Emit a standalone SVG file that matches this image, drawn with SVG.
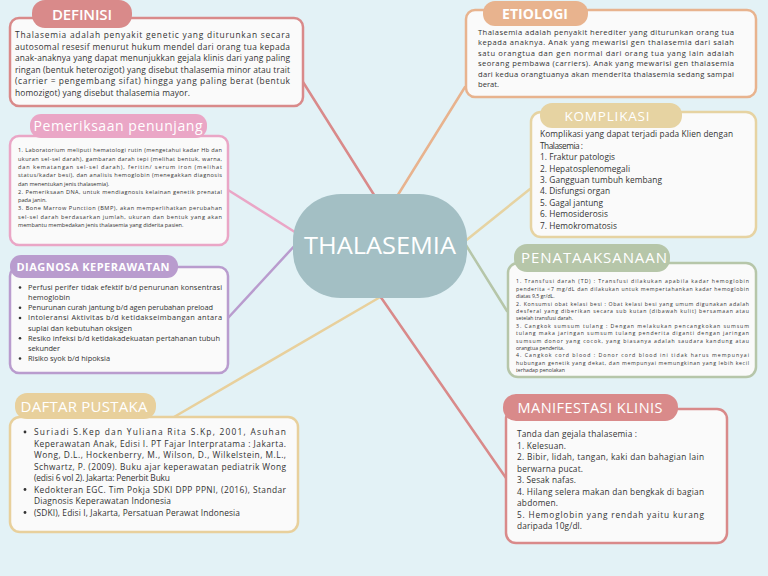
<svg xmlns="http://www.w3.org/2000/svg" width="768" height="576" viewBox="0 0 768 576">
<style>
.box{fill:#fafafa;stroke-width:2.5}
.hd{font-family:"Open Sans","Liberation Sans",sans-serif;fill:#fff;text-anchor:middle;font-weight:600}
.t{font-family:"Open Sans","Liberation Sans",sans-serif;fill:#333}
.con{stroke-width:2.5;stroke-linecap:round;fill:none}
</style>
<rect width="768" height="576" fill="#e3f2f6"/>
<g id="connectors" class="con">
<line x1="303" y1="82" x2="376" y2="198" stroke="#d98a8a"/>
<line x1="465" y1="87" x2="396" y2="198" stroke="#e8b38e"/>
<line x1="228" y1="190" x2="298" y2="234" stroke="#eaa6c6"/>
<line x1="228" y1="318" x2="298" y2="242" stroke="#b99cce"/>
<line x1="174" y1="417" x2="382" y2="296" stroke="#e8d09c"/>
<line x1="530" y1="189" x2="464" y2="242" stroke="#e6d3a2"/>
<line x1="507" y1="311" x2="464" y2="242" stroke="#b6c6a9"/>
<line x1="506" y1="478" x2="380" y2="296" stroke="#d98a8a"/>
</g>
<g id="center">
<rect x="293" y="194" width="174" height="104" rx="48" ry="46" fill="#a3bfc4"/>
<text x="380" y="254" font-size="23" textLength="152" lengthAdjust="spacingAndGlyphs" style="font-family:'Open Sans','Liberation Sans',sans-serif;fill:#fff;text-anchor:middle;font-weight:500">THALASEMIA</text>
</g>
<g id="definisi">
<rect class="box" x="10" y="18" width="293" height="88" rx="9" stroke="#d98a8a"/>
<rect x="32" y="0" width="100" height="28" rx="13" fill="#d98a8a"/>
<text class="hd" x="82" y="20" font-size="15" textLength="60">DEFINISI</text>
<g class="t" font-size="8.4">
<text x="15" y="38" textLength="275">Thalasemia adalah penyakit genetic yang diturunkan secara</text>
<text x="15" y="49.5" textLength="275">autosomal resesif menurut hukum mendel dari orang tua kepada</text>
<text x="15" y="61" textLength="275">anak-anaknya yang dapat menunjukkan gejala klinis dari yang paling</text>
<text x="15" y="72.5" textLength="275">ringan (bentuk heterozigot) yang disebut thalasemia minor atau trait</text>
<text x="15" y="84" textLength="275">(carrier = pengembang sifat) hingga yang paling berat (bentuk</text>
<text x="15" y="95.5" textLength="175">homozigot) yang disebut thalasemia mayor.</text>
</g>
</g>
<g id="pemeriksaan">
<rect class="box" x="10" y="136" width="218" height="109" rx="9" stroke="#eaa6c6"/>
<rect x="30" y="114" width="177" height="24" rx="11" fill="#eaa6c6"/>
<text class="hd" x="118" y="131" font-size="14" style="font-weight:400" textLength="169">Pemeriksaan penunjang</text>
<g class="t" font-size="5.6">
<text x="18" y="152.3" textLength="204">1. Laboratorium meliputi hematologi rutin (mengetahui kadar Hb dan</text>
<text x="18" y="160.6" textLength="204">ukuran sel-sel darah), gambaran darah tepi (melihat bentuk, warna,</text>
<text x="18" y="168.9" textLength="204">dan kematangan sel-sel darah), feritin/ serum iron (melihat</text>
<text x="18" y="177.2" textLength="204">status/kadar besi), dan analisis hemoglobin (menegakkan diagnosis</text>
<text x="18" y="185.5">dan menentukan jenis thalasemia).</text>
<text x="18" y="193.8" textLength="204">2. Pemeriksaan DNA, untuk mendiagnosis kelainan genetik prenatal</text>
<text x="18" y="202.1">pada janin.</text>
<text x="18" y="210.4" textLength="204">3. Bone Marrow Punction (BMP), akan memperlihatkan perubahan</text>
<text x="18" y="218.7" textLength="204">sel-sel darah berdasarkan jumlah, ukuran dan bentuk yang akan</text>
<text x="18" y="227">membantu membedakan jenis thalasemia yang diderita pasien.</text>
</g>
</g>
<g id="diagnosa">
<rect class="box" x="10" y="267" width="218" height="106" rx="9" stroke="#b99cce"/>
<rect x="10" y="255" width="168" height="23" rx="11" fill="#b99cce"/>
<text class="hd" x="93" y="270.5" font-size="11" style="font-weight:700" textLength="153">DIAGNOSA KEPERAWATAN</text>
<g fill="#333">
<circle cx="20" cy="287.5" r="1.3"/><circle cx="20" cy="307.8" r="1.3"/><circle cx="20" cy="318" r="1.3"/><circle cx="20" cy="338.2" r="1.3"/><circle cx="20" cy="358.5" r="1.3"/>
</g>
<g class="t" font-size="7.4">
<text x="28" y="290" textLength="194">Perfusi perifer tidak efektif b/d penurunan konsentrasi</text>
<text x="28" y="300.1" textLength="42">hemoglobin</text>
<text x="28" y="310.3" textLength="185">Penurunan curah jantung b/d agen perubahan preload</text>
<text x="28" y="320.4" textLength="194">Intoleransi Aktivitas b/d ketidakseimbangan antara</text>
<text x="28" y="330.6" textLength="104">suplai dan kebutuhan oksigen</text>
<text x="28" y="340.7" textLength="192">Resiko infeksi b/d ketidakadekuatan pertahanan tubuh</text>
<text x="28" y="350.9" textLength="32">sekunder</text>
<text x="28" y="361" textLength="82">Risiko syok b/d hipoksia</text>
</g>
</g>
<g id="daftar-pustaka">
<rect class="box" x="10" y="417" width="288" height="115" rx="10" stroke="#e8d09c"/>
<rect x="15" y="393" width="141" height="26" rx="12" fill="#e8d09c"/>
<text class="hd" x="84" y="412" font-size="15" style="font-weight:500" textLength="127">DAFTAR PUSTAKA</text>
<g fill="#333">
<circle cx="25" cy="432" r="1.4"/><circle cx="25" cy="489.5" r="1.4"/><circle cx="25" cy="512.5" r="1.4"/>
</g>
<g class="t" font-size="8.4">
<text x="34" y="435" textLength="252">Suriadi S.Kep dan Yuliana Rita S.Kp, 2001, Asuhan</text>
<text x="34" y="446.5" textLength="252">Keperawatan Anak, Edisi I. PT Fajar Interpratama : Jakarta.</text>
<text x="34" y="458" textLength="252">Wong, D.L., Hockenberry, M., Wilson, D., Wilkelstein, M.L.,</text>
<text x="34" y="469.5" textLength="252">Schwartz, P. (2009). Buku ajar keperawatan pediatrik Wong</text>
<text x="34" y="481" textLength="136">(edisi 6 vol 2). Jakarta: Penerbit Buku</text>
<text x="34" y="492.5" textLength="252">Kedokteran EGC. Tim Pokja SDKI DPP PPNI, (2016), Standar</text>
<text x="34" y="504" textLength="137">Diagnosis Keperawatan Indonesia</text>
<text x="34" y="515.5" textLength="206">(SDKI), Edisi I, Jakarta, Persatuan Perawat Indonesia</text>
</g>
</g>
<g id="etiologi">
<rect class="box" x="466" y="10" width="290" height="87" rx="9" stroke="#e8b38e"/>
<rect x="483" y="1" width="105" height="25" rx="12" fill="#e8b38e"/>
<text class="hd" x="535" y="18.5" font-size="14" style="font-weight:700" textLength="66">ETIOLOGI</text>
<g class="t" font-size="7.6">
<text x="478" y="35" textLength="256">Thalasemia adalah penyakit herediter yang diturunkan orang tua</text>
<text x="478" y="45.4" textLength="256">kepada anaknya. Anak yang mewarisi gen thalasemia dari salah</text>
<text x="478" y="55.8" textLength="256">satu orangtua dan gen normal dari orang tua yang lain adalah</text>
<text x="478" y="66.2" textLength="256">seorang pembawa (carriers). Anak yang mewarisi gen thalasemia</text>
<text x="478" y="76.6" textLength="256">dari kedua orangtuanya akan menderita thalasemia sedang sampai</text>
<text x="478" y="87">berat.</text>
</g>
</g>
<g id="komplikasi">
<rect class="box" x="531" y="112" width="225" height="125" rx="10" stroke="#e6d3a2"/>
<rect x="540" y="103" width="142" height="25" rx="12" fill="#e6d3a2"/>
<text class="hd" x="607" y="121" font-size="13.5" style="font-weight:500" textLength="85">KOMPLIKASI</text>
<g class="t" font-size="8.3">
<text x="540" y="137.3" textLength="193">Komplikasi yang dapat terjadi pada Klien dengan</text>
<text x="540" y="148.7" textLength="43">Thalasemia :</text>
<text x="540" y="160.1" textLength="75">1. Fraktur patologis</text>
<text x="540" y="171.5" textLength="90">2. Hepatosplenomegali</text>
<text x="540" y="182.9" textLength="122">3. Gangguan tumbuh kembang</text>
<text x="540" y="194.3" textLength="70">4. Disfungsi organ</text>
<text x="540" y="205.7" textLength="63">5. Gagal jantung</text>
<text x="540" y="217.1" textLength="68">6. Hemosiderosis</text>
<text x="540" y="228.5" textLength="77">7. Hemokromatosis</text>
</g>
</g>
<g id="penataaksanaan">
<rect class="box" x="508" y="263" width="248" height="114" rx="10" stroke="#b6c6a9"/>
<rect x="514" y="244" width="156" height="28" rx="13" fill="#b6c6a9"/>
<text class="hd" x="594" y="263" font-size="15" style="font-weight:500" textLength="146">PENATAAKSANAAN</text>
<g class="t" font-size="5.2">
<text x="516" y="283.3" textLength="233">1. Transfusi darah (TD) : Transfusi dilakukan apabila kadar hemoglobin</text>
<text x="516" y="290.7" textLength="233">penderita &lt;7 mg/dL dan dilakukan untuk mempertahankan kadar hemoglobin</text>
<text x="516" y="298.1">diatas 9,5 gr/dL.</text>
<text x="516" y="305.5" textLength="233">2. Konsumsi obat kelasi besi : Obat kelasi besi yang umum digunakan adalah</text>
<text x="516" y="312.9" textLength="233">desferal yang diberikan secara sub kutan (dibawah kulit) bersamaan atau</text>
<text x="516" y="320.3">setelah transfusi darah.</text>
<text x="516" y="327.7" textLength="233">3. Cangkok sumsum tulang : Dengan melakukan pencangkokan sumsum</text>
<text x="516" y="335.1" textLength="233">tulang maka jaringan sumsum tulang penderita diganti dengan jaringan</text>
<text x="516" y="342.5" textLength="233">sumsum donor yang cocok, yang biasanya adalah saudara kandung atau</text>
<text x="516" y="349.9">orangtua penderita.</text>
<text x="516" y="357.3" textLength="233">4. Cangkok cord blood : Donor cord blood ini tidak harus mempunyai</text>
<text x="516" y="364.7" textLength="233">hubungan genetik yang dekat, dan mempunyai memungkinan yang lebih kecil</text>
<text x="516" y="372.1">terhadap penolakan</text>
</g>
</g>
<g id="manifestasi">
<rect class="box" x="506" y="409" width="221" height="134" rx="10" stroke="#d98a8a"/>
<rect x="503" y="394" width="175" height="27" rx="13" fill="#d98a8a"/>
<text class="hd" x="590" y="412.5" font-size="14.5" style="font-weight:500" textLength="145">MANIFESTASI KLINIS</text>
<g class="t" font-size="8.3">
<text x="517" y="437.3" textLength="120">Tanda dan gejala thalasemia :</text>
<text x="517" y="448.8" textLength="49">1. Kelesuan.</text>
<text x="517" y="460.2" textLength="187">2. Bibir, lidah, tangan, kaki dan bahagian lain</text>
<text x="517" y="471.7" textLength="66">berwarna pucat.</text>
<text x="517" y="483.1" textLength="59">3. Sesak nafas.</text>
<text x="517" y="494.6" textLength="187">4. Hilang selera makan dan bengkak di bagian</text>
<text x="517" y="506" textLength="41">abdomen.</text>
<text x="517" y="517.5" textLength="187">5. Hemoglobin yang rendah yaitu kurang</text>
<text x="517" y="529" textLength="65">daripada 10g/dl.</text>
</g>
</g>
</svg>
